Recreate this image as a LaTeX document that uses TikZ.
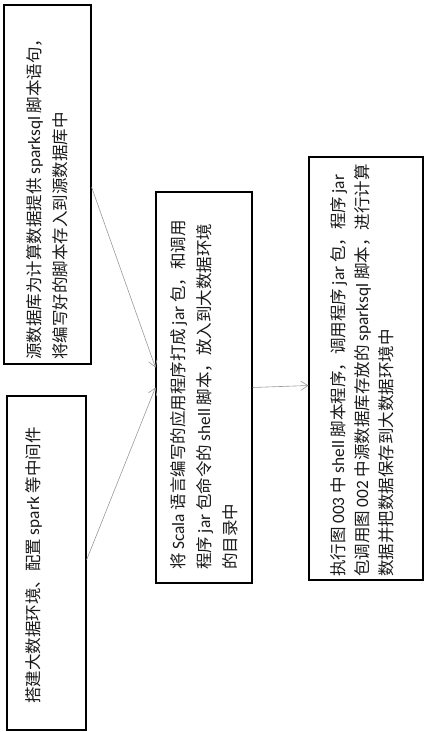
\documentclass[tikz,border=0pt]{standalone}
\usepackage{fontspec}
\setmainfont{Noto Sans CJK SC}
\newfontfamily\enfont[Scale=1.05]{Carlito}
\usetikzlibrary{arrows.meta}
\tikzset{
	boxframe/.style={draw=black,line width=1.1pt,rotate=90,inner sep=0pt},
	txt/.style={rotate=90,anchor=north west,inner sep=0pt,align=left,text=black!90,font=\fontsize{16.5}{26}\selectfont},
	link/.style={->,draw=black!40,line width=0.6pt},
	>={Straight Barb[length=7pt,width=9pt]}
}

\begin{document}
\begin{tikzpicture}[x=1pt,y=-1pt]
\useasboundingbox (0,0) rectangle (427,732);

% SOURCE DB
\node[boxframe,minimum width=359pt,minimum height=87pt] (src) at (47.5,184.5) {};
\node[txt] (srctext) at (26,360) {源数据库为计算数据提供 {\enfont sparksql} 脚本语句，\\将编写好的脚本存入到源数据库中};

% ENVIRONMENT
\node[boxframe,minimum width=334pt,minimum height=79pt] (env) at (46.5,563) {};
\node[txt] (envtext) at (25,704) {搭建大数据环境、配置 {\enfont spark} 等中间件};

% APPLICATION
\node[boxframe,minimum width=391pt,minimum height=96pt] (app) at (204,387.5) {};
\node[txt] (apptext) at (170,570) {将 {\enfont Scala} 语言编写的应用程序打成 {\enfont jar} 包，和调用\\程序 {\enfont jar} 包命令的 {\enfont shell} 脚本，放入到大数据环境\\的目录中};

% RUN
\node[boxframe,minimum width=423pt,minimum height=114pt] (run) at (366,368.5) {};
\node[txt,font=\fontsize{16.5}{24}\selectfont] (runtext) at (330,577) {执行图 {\enfont 003} 中 {\enfont shell} 脚本程序，调用程序 {\enfont jar} 包，程序 {\enfont jar}\\包调用图 {\enfont 002} 中源数据库存放的 {\enfont sparksql} 脚本，进行计算\\数据并把数据保存到大数据环境中};

% ARROWS
\draw[link] ([yshift=-2.5pt]src.south) -- ([yshift=20pt]app.north);
\draw[link] ([yshift=3pt]env.south) -- (app.north);
\draw[link] (app.south) -- ([yshift=-17pt]run.north);

\end{tikzpicture}
\end{document}
